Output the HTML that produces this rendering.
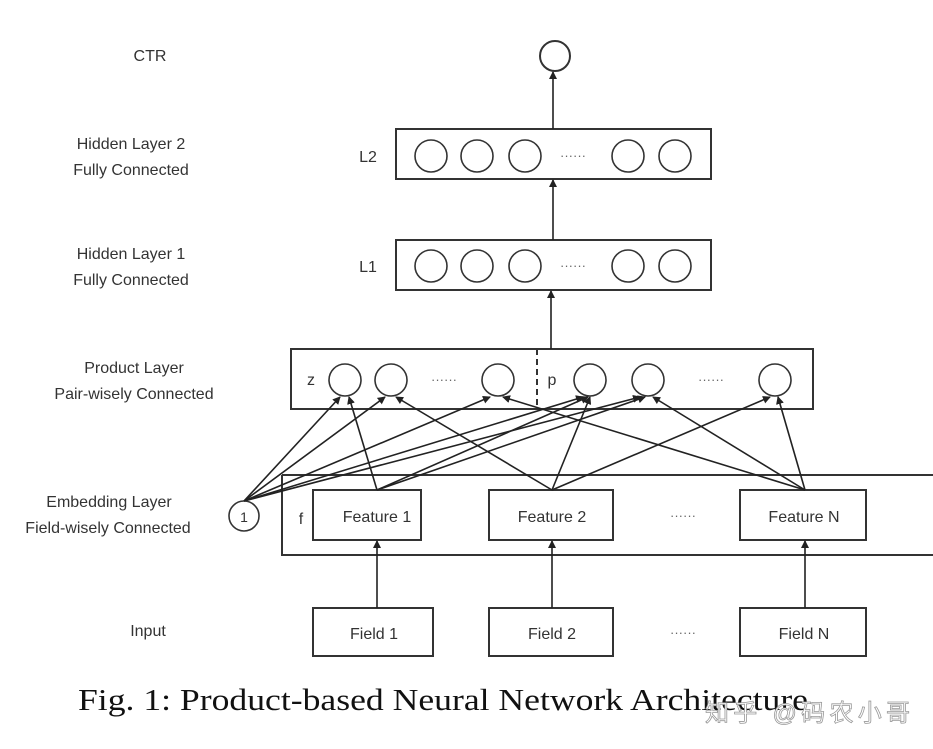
<!DOCTYPE html>
<html><head><meta charset="utf-8"><style>
html,body{margin:0;padding:0;background:#fff;}
svg{display:block;}
</style></head><body>
<svg width="933" height="749" viewBox="0 0 933 749" xmlns="http://www.w3.org/2000/svg">
<defs>
<marker id="a" markerWidth="8" markerHeight="8" refX="7" refY="4" orient="auto" markerUnits="userSpaceOnUse">
<path d="M0,0 L8,4 L0,8 z" fill="#222"/></marker>
</defs>
<g font-family="Liberation Sans, sans-serif" font-size="16" fill="#333" text-anchor="middle">
<text x="150" y="61">CTR</text>
<text x="131" y="149">Hidden Layer 2</text>
<text x="131" y="175">Fully Connected</text>
<text x="131" y="259">Hidden Layer 1</text>
<text x="131" y="285">Fully Connected</text>
<text x="134" y="373">Product Layer</text>
<text x="134" y="399">Pair-wisely Connected</text>
<text x="109" y="507">Embedding Layer</text>
<text x="108" y="533">Field-wisely Connected</text>
<text x="148" y="636">Input</text>
<text x="368" y="162">L2</text>
<text x="368" y="272">L1</text>
<text x="311" y="385">z</text>
<text x="552" y="385">p</text>
<text x="301" y="524">f</text>
<text x="377" y="522">Feature 1</text>
<text x="552" y="522">Feature 2</text>
<text x="804" y="522">Feature N</text>
<text x="374" y="639">Field 1</text>
<text x="552" y="639">Field 2</text>
<text x="804" y="639">Field N</text>
<text x="244" y="522" font-size="14">1</text>
</g>
<g fill="none" stroke="#333" stroke-width="2">
<circle cx="555" cy="56" r="15"/>
<rect x="396" y="129" width="315" height="50"/>
<rect x="396" y="240" width="315" height="50"/>
<g stroke-width="1.6">
<circle cx="431" cy="156" r="16"/><circle cx="477" cy="156" r="16"/><circle cx="525" cy="156" r="16"/><circle cx="628" cy="156" r="16"/><circle cx="675" cy="156" r="16"/>
<circle cx="431" cy="266" r="16"/><circle cx="477" cy="266" r="16"/><circle cx="525" cy="266" r="16"/><circle cx="628" cy="266" r="16"/><circle cx="675" cy="266" r="16"/>
<circle cx="345" cy="380" r="16"/><circle cx="391" cy="380" r="16"/><circle cx="498" cy="380" r="16"/>
<circle cx="590" cy="380" r="16"/><circle cx="648" cy="380" r="16"/><circle cx="775" cy="380" r="16"/>
<circle cx="244" cy="516" r="15"/>
</g>
<rect x="291" y="349" width="522" height="60"/>
<line x1="537" y1="349" x2="537" y2="409" stroke-dasharray="6,4"/>
<path d="M282,475 H935 M282,475 V555 H935"/>
<rect x="313" y="490" width="108" height="50"/>
<rect x="489" y="490" width="124" height="50"/>
<rect x="740" y="490" width="126" height="50"/>
<rect x="313" y="608" width="120" height="48"/>
<rect x="489" y="608" width="124" height="48"/>
<rect x="740" y="608" width="126" height="48"/>
</g>
<g stroke="#222" stroke-width="1.6" fill="none" marker-end="url(#a)">
<line x1="553" y1="129" x2="553" y2="72"/>
<line x1="553" y1="240" x2="553" y2="180"/>
<line x1="551" y1="349" x2="551" y2="291"/>
<line x1="377" y1="608" x2="377" y2="541"/>
<line x1="552" y1="608" x2="552" y2="541"/>
<line x1="805" y1="608" x2="805" y2="541"/>
<!-- circle 1 -->
<line x1="244" y1="501" x2="340" y2="397"/>
<line x1="244" y1="501" x2="385" y2="397"/>
<line x1="244" y1="501" x2="490" y2="397"/>
<line x1="244" y1="501" x2="583" y2="397"/>
<line x1="244" y1="501" x2="640" y2="397"/>
<!-- feature 1 -->
<line x1="377" y1="490" x2="349" y2="397"/>
<line x1="377" y1="490" x2="588" y2="397"/>
<line x1="377" y1="490" x2="645" y2="397"/>
<!-- feature 2 -->
<line x1="552" y1="490" x2="396" y2="397"/>
<line x1="552" y1="490" x2="590" y2="397"/>
<line x1="552" y1="490" x2="770" y2="397"/>
<!-- feature N -->
<line x1="805" y1="490" x2="503" y2="397"/>
<line x1="805" y1="490" x2="653" y2="397"/>
<line x1="805" y1="490" x2="778" y2="397"/>
</g>
<g font-family="Liberation Sans, sans-serif" font-size="13" fill="#666" text-anchor="middle">
<text x="573" y="160">······</text>
<text x="573" y="270">······</text>
<text x="444" y="384">······</text>
<text x="711" y="384">······</text>
<text x="683" y="520">······</text>
<text x="683" y="637">······</text>
</g>
<text x="78" y="710" font-family="Liberation Serif, serif" font-size="31" fill="#111" textLength="730" lengthAdjust="spacingAndGlyphs">Fig. 1: Product-based Neural Network Architecture</text>
<text x="705" y="721" font-family="Liberation Sans, 'Noto Sans CJK SC', sans-serif" font-size="24" fill="#fff" stroke="#999" stroke-width="0.8" textLength="205">知乎 @码农小哥</text>
</svg>
</body></html>
